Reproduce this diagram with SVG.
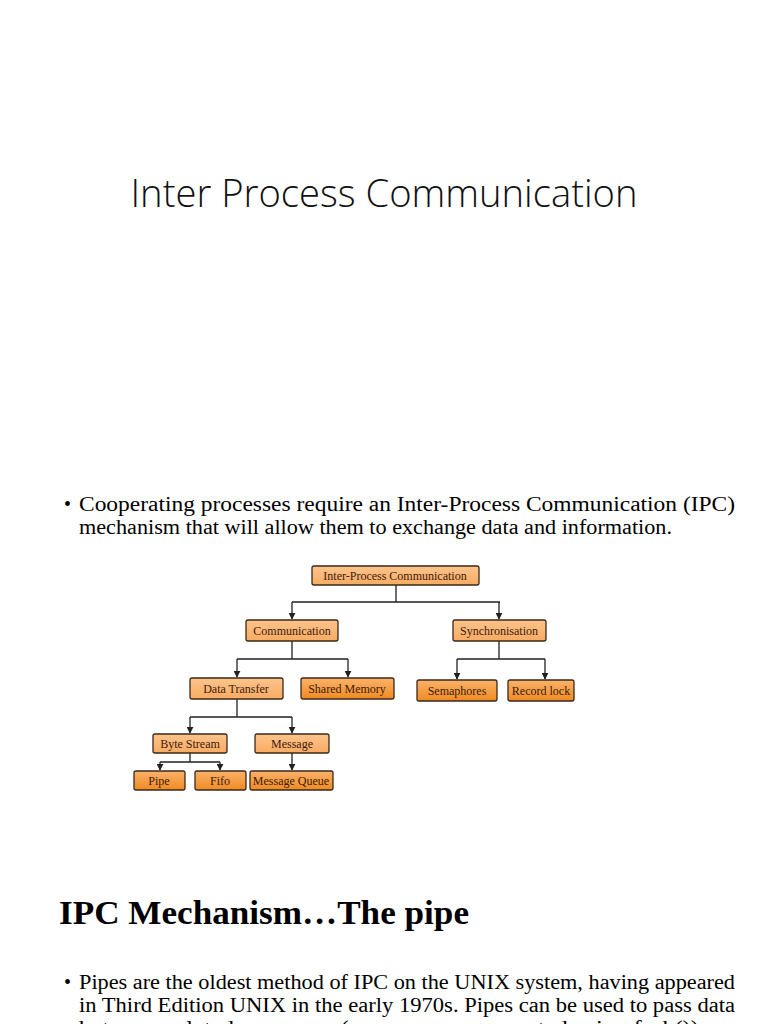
<svg xmlns="http://www.w3.org/2000/svg" width="768" height="1024" viewBox="0 0 768 1024">
<defs>
<linearGradient id="lt" x1="0" y1="0" x2="0" y2="1"><stop offset="0" stop-color="#fcc48c"/><stop offset="1" stop-color="#f9ab62"/></linearGradient>
<linearGradient id="dk" x1="0" y1="0" x2="0" y2="1"><stop offset="0" stop-color="#fbb26a"/><stop offset="1" stop-color="#f08a22"/></linearGradient>
<marker id="ah" viewBox="0 0 10 10" refX="9" refY="5" markerWidth="7" markerHeight="7" orient="auto" markerUnits="userSpaceOnUse"><path d="M0,0 L10,5 L0,10 z" fill="#222"/></marker>
</defs>
<style>
.n rect{stroke:#3a2a1a;stroke-width:1.3}
.l rect{fill:url(#lt)}
.d rect{fill:url(#dk)}
.n text{font-family:"Liberation Serif",serif;font-size:12px;fill:#3a2010;text-anchor:middle}
.c path{fill:none;stroke:#222;stroke-width:1.3}
.b{font-family:"Liberation Serif",serif;font-size:20px;fill:#000}
</style>
<rect width="768" height="1024" fill="#fff"/>
<text x="384" y="207" font-family="'Open Sans',sans-serif" font-weight="300" font-size="38" text-anchor="middle" fill="#111" textLength="507" lengthAdjust="spacingAndGlyphs">Inter Process Communication</text>
<text class="b" x="64" y="511">•</text>
<text class="b" x="79" y="511" textLength="656" lengthAdjust="spacingAndGlyphs">Cooperating  processes  require  an  Inter-Process  Communication  (IPC)</text>
<text class="b" x="79" y="534" textLength="593" lengthAdjust="spacingAndGlyphs">mechanism that will allow them to exchange data and information.</text>
<g class="c">
<path d="M396,585 V602 M292,602 H500"/><path d="M292,602 V619" marker-end="url(#ah)"/><path d="M499,602 V619" marker-end="url(#ah)"/>
<path d="M292,641 V659 M237,659 H348"/><path d="M237,659 V677" marker-end="url(#ah)"/><path d="M348,659 V677" marker-end="url(#ah)"/>
<path d="M499,641 V659 M457,659 H545"/><path d="M457,659 V679" marker-end="url(#ah)"/><path d="M545,659 V679" marker-end="url(#ah)"/>
<path d="M237,699 V717 M190,717 H292"/><path d="M190,717 V733" marker-end="url(#ah)"/><path d="M292,717 V733" marker-end="url(#ah)"/>
<path d="M190,753 V762 M160,762 H220"/><path d="M160,762 V770" marker-end="url(#ah)"/><path d="M220,762 V770" marker-end="url(#ah)"/>
<path d="M292,753 V770" marker-end="url(#ah)"/>
</g>
<g id="root" class="n l"><rect x="312" y="566" width="167" height="19" rx="2"/><text x="395" y="580">Inter-Process Communication</text></g>
<g id="comm" class="n l"><rect x="246" y="620" width="92" height="21" rx="2"/><text x="292" y="635">Communication</text></g>
<g id="sync" class="n l"><rect x="453" y="620" width="93" height="21" rx="2"/><text x="499" y="635">Synchronisation</text></g>
<g id="dt" class="n l"><rect x="190" y="678" width="93" height="21" rx="2"/><text x="236" y="693">Data Transfer</text></g>
<g id="sm" class="n d"><rect x="301" y="678" width="93" height="21" rx="2"/><text x="347" y="693">Shared Memory</text></g>
<g id="sem" class="n d"><rect x="417" y="680" width="80" height="21" rx="2"/><text x="457" y="695">Semaphores</text></g>
<g id="rl" class="n d"><rect x="508" y="680" width="66" height="21" rx="2"/><text x="541" y="695">Record lock</text></g>
<g id="bs" class="n l"><rect x="153" y="734" width="74" height="19" rx="2"/><text x="190" y="748">Byte Stream</text></g>
<g id="msg" class="n l"><rect x="255" y="734" width="74" height="19" rx="2"/><text x="292" y="748">Message</text></g>
<g id="pipe" class="n d"><rect x="134" y="771" width="51" height="19" rx="2"/><text x="159" y="785">Pipe</text></g>
<g id="fifo" class="n d"><rect x="195" y="771" width="51" height="19" rx="2"/><text x="220" y="785">Fifo</text></g>
<g id="mq" class="n d"><rect x="250" y="771" width="83" height="19" rx="2"/><text x="291" y="785">Message Queue</text></g>
<text x="59" y="924" font-family="'Liberation Serif',serif" font-weight="bold" font-size="34" fill="#000" textLength="410" lengthAdjust="spacingAndGlyphs">IPC Mechanism…The pipe</text>
<text class="b" x="64" y="989">•</text>
<text class="b" x="79" y="989" font-size="21" textLength="656" lengthAdjust="spacingAndGlyphs">Pipes are the oldest method of IPC on the UNIX system, having appeared</text>
<text class="b" x="79" y="1012" font-size="21" textLength="656" lengthAdjust="spacingAndGlyphs">in Third Edition UNIX in the early 1970s. Pipes can be used to pass data</text>
<text class="b" x="79" y="1035" font-size="21" textLength="620" lengthAdjust="spacingAndGlyphs">between related processes (e.g., processes created using fork())</text>
</svg>
